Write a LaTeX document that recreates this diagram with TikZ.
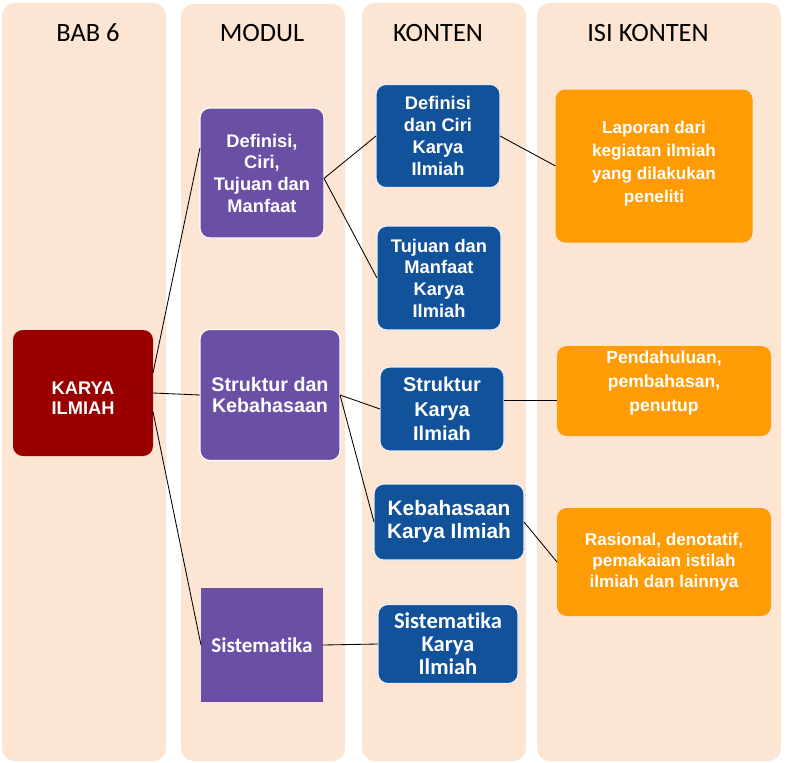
\documentclass[tikz,border=0pt]{standalone}
\usepackage{fontspec}
\setmainfont{Liberation Sans}
\newfontfamily\calibri[Ligatures=NoCommon]{Carlito}
\usepackage{tikz}
\usetikzlibrary{positioning}

\definecolor{colbg}{HTML}{FCE5D2}
\definecolor{karyared}{HTML}{9A0000}
\definecolor{modpurple}{HTML}{6A4FA5}
\definecolor{konblue}{HTML}{12529A}
\definecolor{konedge}{HTML}{E6F0FA}
\definecolor{isiorange}{HTML}{FF9B05}

\begin{document}
\begin{tikzpicture}[
  x=0.025cm,y=-0.025cm,
  column/.style={fill=colbg,rounded corners=9pt},
  head/.style={anchor=base,font=\calibri\fontsize{18.8}{20}\selectfont},
  box/.style={rectangle,rounded corners=7pt,text=white,align=center,inner sep=2pt,outer sep=0pt},
  sz/.style 2 args={minimum width=#1*0.025cm,minimum height=#2*0.025cm},
  txt/.style 2 args={font=\fontsize{#1}{#2}\selectfont\bfseries},
  cal/.style 2 args={font=\calibri\fontsize{#1}{#2}\selectfont\bfseries},
  bab/.style={box,fill=karyared},
  modul/.style={box,fill=modpurple,draw=white,line width=0.8pt},
  konten/.style={box,fill=konblue,draw=konedge,line width=0.8pt},
  isi/.style={box,fill=isiorange},
  link/.style={draw=black,line width=0.6pt},
]
\useasboundingbox (0,0) rectangle (787,762);

% the four columns
\fill[column] (2,3) rectangle (166,761);
\fill[column] (181,4) rectangle (345,761);
\fill[column] (362,3) rectangle (526,761);
\fill[column] (537,3) rectangle (781,761);

\node[head] (hbab) at (88,42) {BAB 6};
\node[head] (hmodul) at (262,42) {MODUL};
\node[head] (hkonten) at (438,42) {KONTEN};
\node[head] (hisi) at (648,42) {ISI KONTEN};

% BAB
\node[bab,sz={140}{126},txt={13}{14.2}] (karya) at (83,393) {\mbox{}\\[2pt]KARYA\\ILMIAH};

% MODUL
\node[modul,sz={124}{130},txt={13}{15.4}] (defmod) at (262,173) {Definisi,\\Ciri,\\Tujuan dan\\Manfaat};
\node[modul,sz={140}{131},txt={14}{15.2}] (strmod) at (270,395) {Struktur dan\\Kebahasaan};
\node[modul,sharp corners,draw=none,sz={122}{114},cal={15}{17}] (sismod) at (262,645) {Sistematika};

% KONTEN
\node[konten,sz={124}{103},txt={13}{15.7}] (defkon) at (438,136) {Definisi\\dan Ciri\\Karya\\Ilmiah};
\node[konten,sz={124}{104},txt={13}{15.4}] (tujkon) at (439,278) {Tujuan dan\\Manfaat\\Karya\\Ilmiah};
\node[konten,sz={124}{84},txt={14.2}{17.4}] (strkon) at (442,409) {Struktur\\Karya\\Ilmiah};
\node[konten,sz={150}{76},txt={14.8}{16.5}] (kebkon) at (449,522) {Kebahasaan\\Karya Ilmiah};
\node[konten,sz={140}{79},cal={16}{16.3}] (siskon) at (448,644) {Sistematika\\Karya\\Ilmiah};

% ISI KONTEN
\node[isi,sz={197}{153},txt={12.2}{16.3}] (laporan) at (654,166) {Laporan dari\\kegiatan ilmiah\\yang dilakukan\\peneliti\\[-10.6pt]};
\node[isi,sz={214}{90},txt={12.5}{17}] (pendah) at (664,391) {Pendahuluan,\\pembahasan,\\penutup\\[-3pt]};
\node[isi,sz={214}{108},txt={12.2}{14.9}] (rasional) at (664,562) {Rasional, denotatif,\\pemakaian istilah\\ilmiah dan lainnya};

% connectors
\draw[link] (karya.16) -- (defmod.158);
\draw[link] (karya.east) -- (strmod.west);
\draw[link] (karya.-15) -- (sismod.west);
\draw[link] (defmod.-5) -- (defkon.west);
\draw[link] (defmod.-5) -- (tujkon.west);
\draw[link] (strmod.east) -- (strkon.west);
\draw[link] (strmod.east) -- (kebkon.west);
\draw[link] (sismod.east) -- (siskon.west);
\draw[link] (defkon.east) -- (laporan.west);
\draw[link] (strkon.8) -- (strkon.8 -| pendah.west);
\draw[link] (kebkon.east) -- (rasional.west);
\end{tikzpicture}
\end{document}
